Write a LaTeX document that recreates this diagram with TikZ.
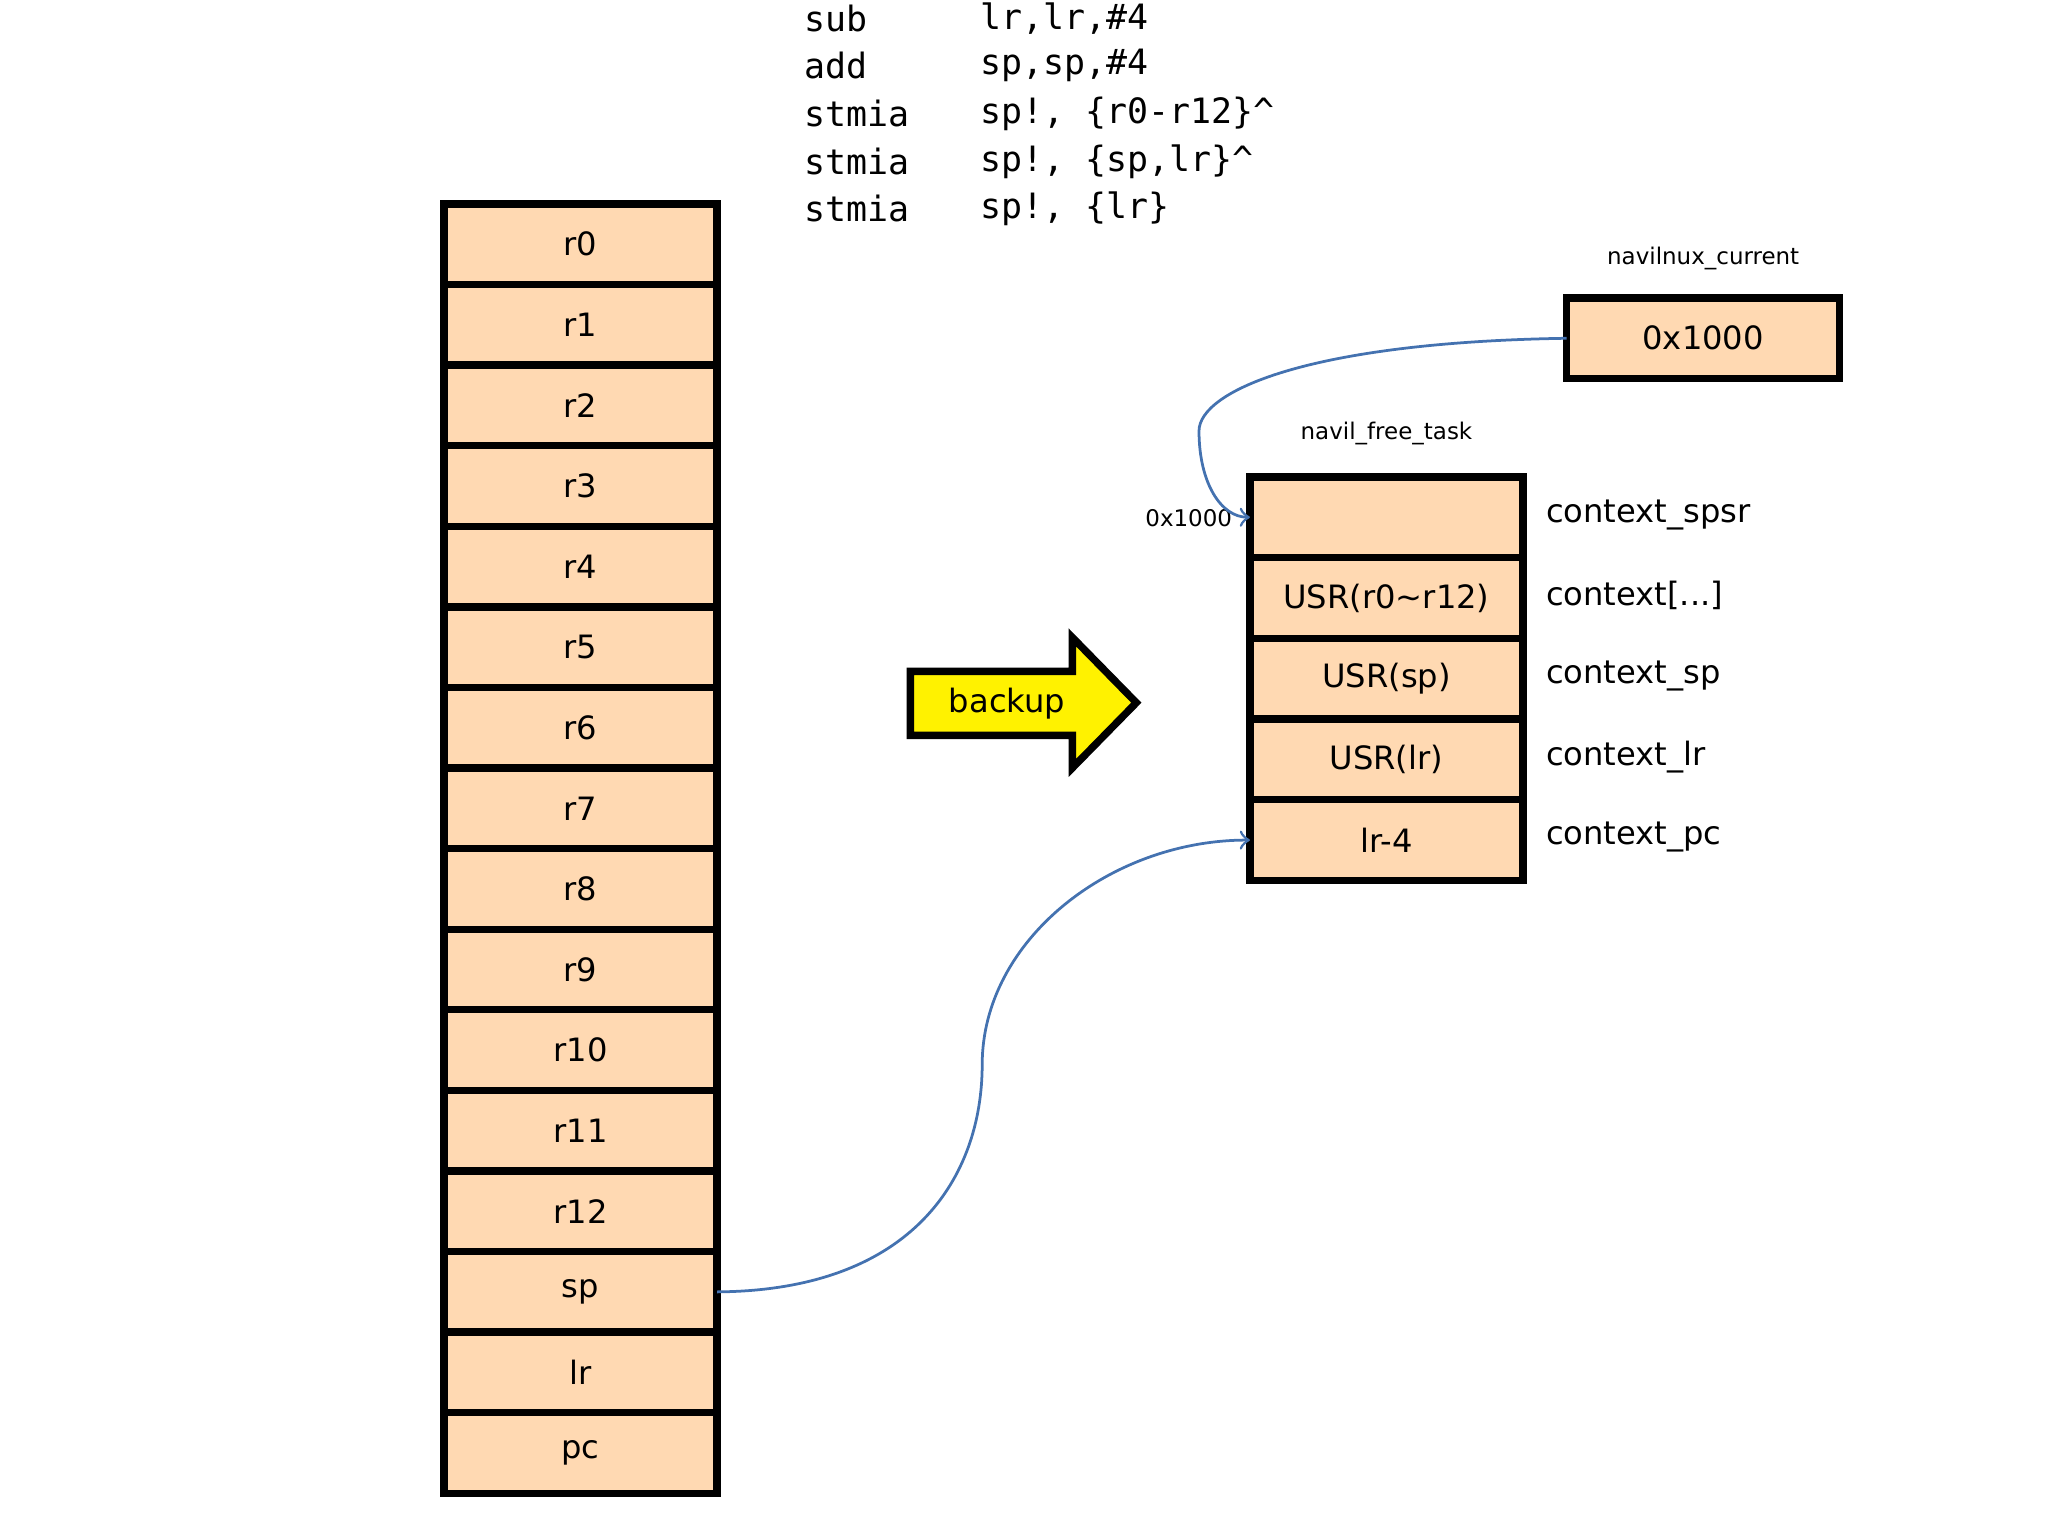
\documentclass[tikz,border=0pt]{standalone}
\usepackage{fontspec}
\setmainfont{DejaVu Sans}
\newfontfamily\codefont{DejaVu Sans Mono}
\begin{document}
\begin{tikzpicture}[x=0.01cm,y=-0.01cm,
  reg/.style={draw=black,line width=1.6pt,fill=orange!30!white,minimum width=2.09cm,minimum height=0.617cm,inner sep=0pt,font=\fontsize{7}{8}\selectfont,outer sep=0pt},
  lbl/.style={anchor=west,font=\fontsize{7}{8}\selectfont,inner sep=0pt},
  small/.style={font=\fontsize{5}{6}\selectfont,inner sep=0pt},
  code/.style={anchor=west,font=\codefont\fontsize{7.6}{9}\selectfont,inner sep=0pt},
  link/.style={draw={rgb,255:red,68;green,114;blue,176},line width=0.6pt}]
\useasboundingbox (0,0) rectangle (1568,1176);
% code
\node[code] (c1a) at (615,14) {sub};   \node[code] (c1b) at (750,14) {lr,lr,\#4};
\node[code] (c2a) at (615,50) {add};   \node[code] (c2b) at (750,50) {sp,sp,\#4};
\node[code] (c3a) at (615,87) {stmia}; \node[code] (c3b) at (750,87) {sp!, \{r0-r12\}\textasciicircum};
\node[code] (c4a) at (615,124) {stmia};\node[code] (c4b) at (750,124) {sp!, \{sp,lr\}\textasciicircum};
\node[code] (c5a) at (615,160) {stmia};\node[code] (c5b) at (750,160) {sp!, \{lr\}};
% register column
\foreach \t [count=\i from 0] in {r0,r1,r2,r3,r4,r5,r6,r7,r8,r9,r10,r11,r12,sp,lr,pc}
  \node[reg] (R\i) at (444.5,{187+61.7*\i}) {\t};
% task structure
\foreach \t/\l [count=\i from 0] in {{}/context\_spsr,USR(r0\textasciitilde r12)/{context[...]},USR(sp)/context\_sp,USR(lr)/context\_lr,lr-4/context\_pc}{
  \node[reg] (T\i) at (1061.5,{396+61.8*\i}) {\t};
  \node[lbl] (L\i) at (1183,{394+61.8*\i}) {\l};
}
\node[small] (ft) at (1061.5,332) {navil\_free\_task};
\node[reg] (cur) at (1304,259) {0x1000};
\node[small] (curl) at (1304,198) {navilnux\_current};
\node[small,anchor=east] (addr) at (944,397) {0x1000};
% backup arrow
\draw[line width=1.6pt,fill=yellow] (697,514) -- (821,514) -- (821,488) -- (870,538) -- (821,588) -- (821,563) -- (697,563) -- cycle;
\node[font=\fontsize{7}{8}\selectfont] (bk) at (771,539) {backup};
% links
\draw[link,->] (cur.west) .. controls (1000,262) and (918,300) .. (918,330)
  .. controls (918,370) and (935,396) .. (T0.west);
\draw[link,->] (R13.east) .. controls (700,988) and (752,900) .. (752,815)
  .. controls (752,720) and (850,643) .. (T4.west);
\end{tikzpicture}
\end{document}
